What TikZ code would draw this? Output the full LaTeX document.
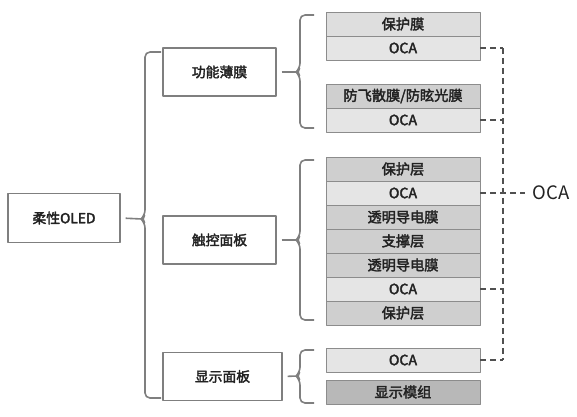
\documentclass[tikz,border=0pt]{standalone}
\usepackage{fontspec}
\setmainfont{Noto Sans CJK SC}
\newfontfamily\boxfont[FakeBold=2.5]{Noto Sans CJK SC}
\definecolor{linegray}{HTML}{7F7F7F}
\definecolor{dashgray}{HTML}{505050}
\definecolor{txtgray}{HTML}{222222}
\begin{document}
\begin{tikzpicture}[x=1pt,y=-1pt,line join=round]
	\def \colone{64}
	\def \coltwo{219.5}
	\def \colthree{403}
	\def \colfour{503}
	\tikzstyle{o-node}=[draw=linegray,line width=1.4pt,fill=white,text=txtgray,font=\boxfont\fontsize{13.8}{15}\selectfont,minimum width=112pt,minimum height=49pt,inner sep=0pt]
	\tikzstyle{c-node}=[o-node,minimum width=113pt,minimum height=48pt]
	\tikzstyle{l-node}=[draw=black!45,line width=0.8pt,text=txtgray,font=\boxfont\fontsize{14.2}{15}\selectfont,minimum width=154pt,minimum height=24pt,inner sep=0pt]
	\tikzstyle{dark}=[l-node,fill=black!19]
	\tikzstyle{light}=[l-node,fill=black!10]
	\tikzstyle{brace-line}=[draw=linegray,line width=1.6pt,rounded corners=5pt]
	\tikzstyle{oca-line}=[draw=dashgray,line width=1.5pt,dash pattern=on 6pt off 4pt]
	\useasboundingbox (0,0) rectangle (577,416);

	% main boxes
	\node[o-node] 	(o0)	at (\colone,218)		{柔性OLED};
	\node[c-node] 	(c0)	at (\coltwo,72)		{功能薄膜};
	\node[c-node] 	(c1)	at (\coltwo,240)		{触控面板};
	\node[c-node,minimum width=119pt] 	(c2)	at (222.5,376.5)	{显示面板};

	% functional film
	\node[light,fill=black!13] 	(f0)	at (\colthree,24)	{保护膜};
	\node[light] 	(f1)	at (\colthree,48)	{OCA};
	\node[dark] 	(f2)	at (\colthree,96)	{防飞散膜/防眩光膜};
	\node[light] 	(f3)	at (\colthree,120)	{OCA};

	% touch panel
	\node[dark] 	(t0)	at (\colthree,169)	{保护层};
	\node[light] 	(t1)	at (\colthree,193)	{OCA};
	\node[dark] 	(t2)	at (\colthree,217)	{透明导电膜};
	\node[dark] 	(t3)	at (\colthree,241)	{支撑层};
	\node[dark] 	(t4)	at (\colthree,265)	{透明导电膜};
	\node[light] 	(t5)	at (\colthree,289)	{OCA};
	\node[dark] 	(t6)	at (\colthree,313)	{保护层};

	% display panel
	\node[light] 	(d0)	at (\colthree,360)	{OCA};
	\node[dark,fill=black!28] 	(d1)	at (\colthree,392)	{显示模组};

	\node[text=txtgray,font=\fontsize{18.5}{20}\selectfont,anchor=west] (oca) at (529,193) {OCA};

	% braces
	\coordinate (b0) at (142,219);
	\coordinate (b1) at (297,72);
	\coordinate (b2) at (297,240);
	\coordinate (b3) at (297,376);
	\draw[brace-line] (161,52) -- (145,52) -- (145,215) -- (141,219) -- (145,223) -- (145,398) -- (161,398);
	\draw[brace-line] (314,15) -- (300,15) -- (300,68) -- (296,72) -- (300,76) -- (300,128) -- (314,128);
	\draw[brace-line] (314,160) -- (300,160) -- (300,236) -- (296,240) -- (300,244) -- (300,320) -- (314,320);
	\draw[brace-line] (314,350) -- (300,350) -- (300,372) -- (296,376) -- (300,380) -- (300,403) -- (314,403);

	\path[draw=linegray,line width=1.6pt,shorten <=5pt]
		(o0.east)	edge	(b0)
		(c0.east)	edge	(b1)
		(c1.east)	edge	(b2)
		(c2.east)	edge	(b3);

	% oca links
	\coordinate (j0) at (\colfour,48);
	\coordinate (j1) at (\colfour,120);
	\coordinate (j2) at (\colfour,289);
	\coordinate (j3) at (\colfour,360);
	\path[oca-line]
		(f1.east)	edge	(j0)
		(f3.east)	edge	(j1)
		(t5.east)	edge	(j2)
		(d0.east)	edge	(j3)
		(j0)	edge	(j3)
		(t1.east)	edge[shorten >=4pt]	(oca.west);
\end{tikzpicture}
\end{document}
